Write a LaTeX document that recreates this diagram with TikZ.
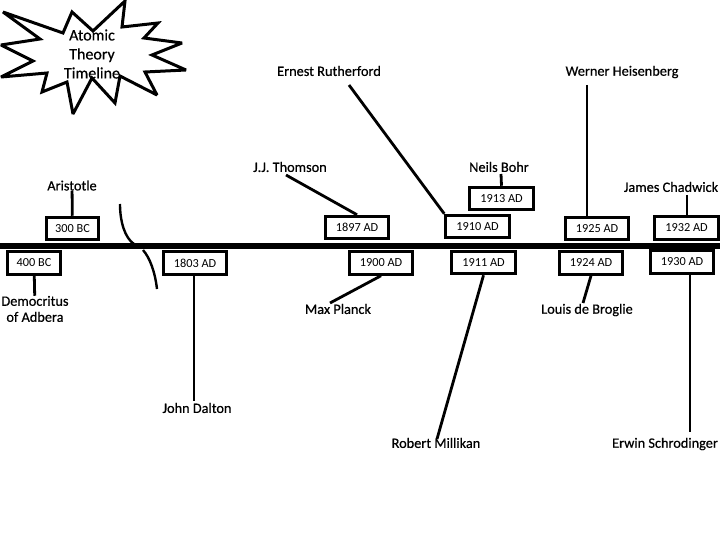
\documentclass[tikz,border=0pt]{standalone}
\usepackage{fontspec}
\setmainfont{Carlito}
\newfontfamily\labelfont[FakeBold=0.5]{Carlito}
\usetikzlibrary{positioning}

\begin{document}
\begin{tikzpicture}[
    x=1pt,
    y=-1pt,
    yearbox/.style={
        draw,
        fill=white,
        line width=3pt,
        minimum width=63.5pt,
        minimum height=22.5pt,
        inner sep=0pt,
        font=\fontsize{12.3}{12}\selectfont
    },
    person/.style={
        inner sep=0pt,
        align=center,
        font=\labelfont\fontsize{14.3}{16}\selectfont
    },
    stem/.style={line width=2.8pt},
    burst/.style={draw, line width=3pt, line join=miter, miter limit=3}
]
    \useasboundingbox (0,0) rectangle (720,540);

    % timeline and its break mark
    \coordinate (lineleft) at (0,246);
    \coordinate (lineright) at (720,246);
    \draw[line width=5.5pt] (lineleft) -- (lineright);
    \coordinate (breaktop) at (120,204);
    \coordinate (breakbottom) at (157,289);
    \draw[line width=2.4pt] (breaktop) .. controls (120,222) and (125,238) .. (134,244);
    \draw[line width=2.4pt] (143,250) .. controls (150,258) and (155,272) .. (breakbottom);

    % title burst
    \draw[burst] (3,12) -- (63,33) -- (72,12) -- (93,31) -- (125,1) -- (122,27)
        -- (158,23) -- (144,38) -- (182,43) -- (152,55) -- (186,70) -- (145,72)
        -- (157,95) -- (120,76) -- (115,103) -- (92,78) -- (73,114) -- (67,82)
        -- (42,92) -- (47,73) -- (1,77) -- (33,61) -- (1,45) -- (40,39) -- cycle;
    \node (title) [person, font=\labelfont\fontsize{16}{19}\selectfont] at (92,54) {Atomic\\Theory\\Timeline};

    % years above the line
    \node (y300) [yearbox, minimum width=52.5pt] at (72.5,228.5) {300 BC};
    \node (y1897) [yearbox] at (357,227.5) {1897 AD};
    \node (y1910) [yearbox] at (477.5,226.5) {1910 AD};
    \node (y1913) [yearbox] at (501.5,198.5) {1913 AD};
    \node (y1925) [yearbox] at (597,228.5) {1925 AD};
    \node (y1932) [yearbox] at (686.5,228) {1932 AD};

    % years below the line
    \node (y400) [yearbox, minimum width=53.5pt] at (34,263) {400 BC};
    \node (y1803) [yearbox] at (195,263) {1803 AD};
    \node (y1900) [yearbox] at (381,263) {1900 AD};
    \node (y1911) [yearbox] at (483.5,262.5) {1911 AD};
    \node (y1924) [yearbox] at (591,263) {1924 AD};
    \node (y1930) [yearbox] at (682,262) {1930 AD};

    % people
    \node (aristotle) [person, above=25pt of y300, xshift=-0.5pt] {Aristotle};
    \node (democritus) [person, below=20pt of y400, xshift=1pt] {Democritus\\of Adbera};
    \node (dalton) [person] at (197,408) {John Dalton};
    \node (thomson) [person] at (290,167) {J.J. Thomson};
    \node (planck) [person] at (338,309) {Max Planck};
    \node (rutherford) [person] at (329,71) {Ernest Rutherford};
    \node (millikan) [person] at (436,443) {Robert Millikan};
    \node (bohr) [person] at (499,167) {Neils Bohr};
    \node (heisenberg) [person] at (622,72) {Werner Heisenberg};
    \node (broglie) [person] at (587,310) {Louis de Broglie};
    \node (chadwick) [person] at (671,187) {James Chadwick};
    \node (schrodinger) [person] at (665,444) {Erwin Schrodinger};

    % free ends of the connectors
    \coordinate (rutherfordend) at (349,85);
    \coordinate (heisenbergend) at (587,85);
    \coordinate (thomsonend) at (286,175);
    \coordinate (chadwickend) at (687,195);
    \coordinate (schrodingerend) at (690,432);
    \coordinate (planckend) at (330,303);
    \coordinate (broglieend) at (583,303);
    \coordinate (millikanend) at (437,439);
    \coordinate (daltonend) at (194,401);
    \coordinate (bohrend) at (501,174);

    \draw[stem] (aristotle) -- (y300);
    \draw[stem] (y400) -- (democritus);
    \draw[stem] (y1803.south -| daltonend) -- (daltonend);
    \draw[stem] (thomsonend) -- (y1897.north);
    \draw[stem] (y1900.south) -- (planckend);
    \draw[stem] (rutherfordend) -- (y1910.north west);
    \draw[stem] (y1911.south) -- (millikanend);
    \draw[stem] (bohrend) -- (y1913.north);
    \draw[stem] (heisenbergend) -- (heisenbergend |- y1925.north);
    \draw[stem] (y1924.south) -- (broglieend);
    \draw[stem] (chadwickend) -- (chadwickend |- y1932.north);
    \draw[stem] (schrodingerend |- y1930.south) -- (schrodingerend);

\end{tikzpicture}
\end{document}
